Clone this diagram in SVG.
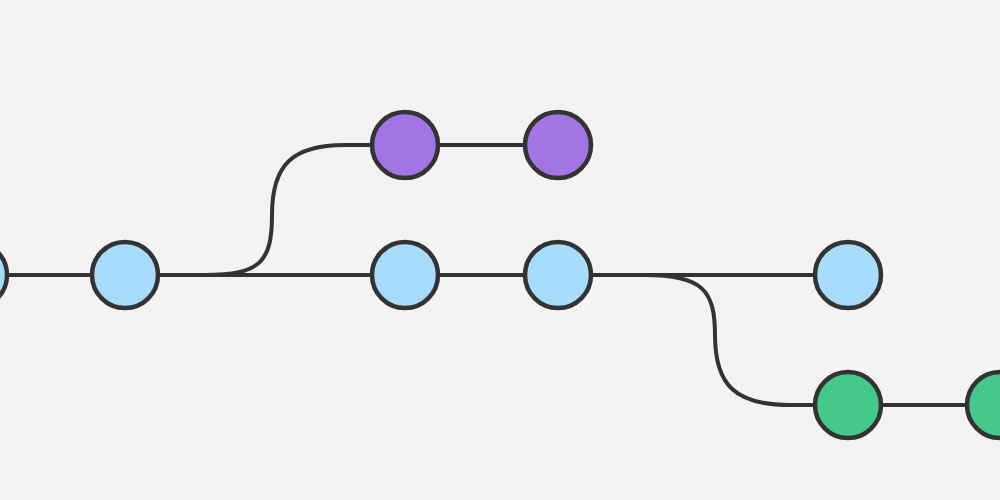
<svg xmlns="http://www.w3.org/2000/svg" width="1000" height="500" viewBox="0 0 1000 500">
<style>
.c{stroke:#333;stroke-width:4.5}
.l{fill:none;stroke:#333;stroke-width:4}
.b{fill:#a8dcfc}.p{fill:#a374e4}.g{fill:#45c98b}
</style>
<rect width="1000" height="500" fill="#f3f3f3"/>
<g id="connectors">
<path class="l" d="M-26,275 H848"/>
<path class="l" d="M405,145 H558"/>
<path class="l" d="M848,405 H1000"/>
<path class="l" d="M205,275 C260,275 272,262 272,215 C272,165 292,145 345,145 H405"/>
<path class="l" d="M645,275 C702,275 715,290 715,335 C715,385 735,405 790,405 H848"/>
</g>
<g id="n0"><circle class="c b" cx="-26" cy="275" r="33"/></g>
<g id="n1"><circle class="c b" cx="125" cy="275" r="33"/></g>
<g id="n2"><circle class="c b" cx="405" cy="275" r="33"/></g>
<g id="n3"><circle class="c b" cx="558" cy="275" r="33"/></g>
<g id="n4"><circle class="c b" cx="848" cy="275" r="33"/></g>
<g id="p1"><circle class="c p" cx="405" cy="145" r="33"/></g>
<g id="p2"><circle class="c p" cx="558" cy="145" r="33"/></g>
<g id="g1"><circle class="c g" cx="848" cy="405" r="33"/></g>
<g id="g2"><circle class="c g" cx="1000" cy="405" r="33"/></g>
</svg>
